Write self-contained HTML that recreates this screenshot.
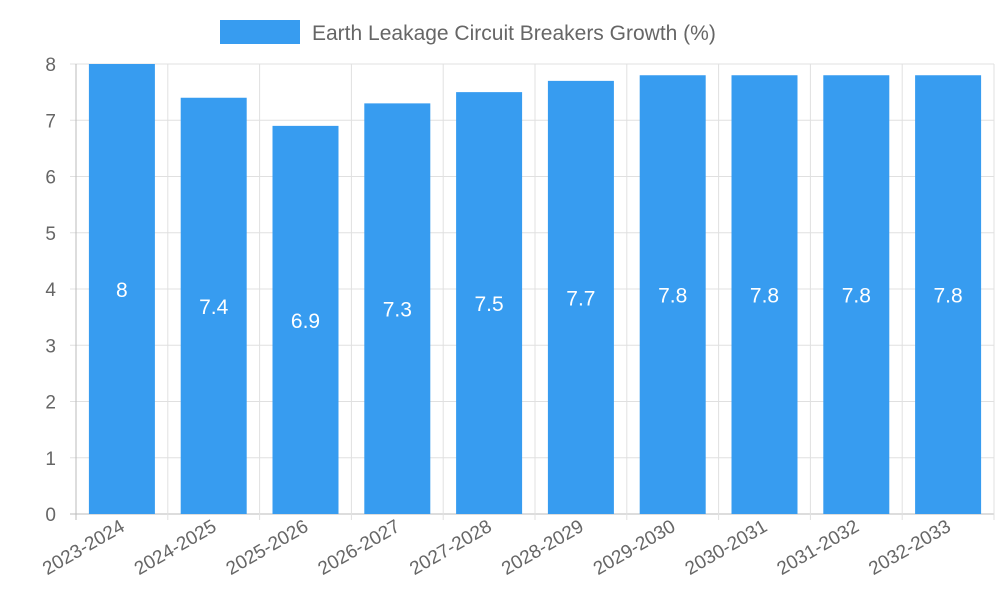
<!DOCTYPE html>
<html><head><meta charset="utf-8"><style>
body{margin:0;background:#fff;}
svg{display:block;font-family:"Liberation Sans",sans-serif;}
</style></head><body>
<svg id="chart" width="1000" height="600">
<g id="legend">
<rect x="220" y="20" width="80" height="24" fill="#379cf0"></rect>
<text x="312" y="40" font-size="21" fill="#666">Earth Leakage Circuit Breakers Growth (%)</text>
</g>
<g id="grid"></g>
<g id="bars"></g>
<g id="axes"></g>
</svg>
<script>
const categories=["2023-2024","2024-2025","2025-2026","2026-2027","2027-2028","2028-2029","2029-2030","2030-2031","2031-2032","2032-2033"];
const values=[8,7.4,6.9,7.3,7.5,7.7,7.8,7.8,7.8,7.8];
const yTicks=[0,1,2,3,4,5,6,7,8];
const NS="http://www.w3.org/2000/svg";
const L=76,R=994,T=64,B=514,yMax=8;
const bw=(R-L)/categories.length;
const x=i=>L+i*bw;
const y=v=>B-(v/yMax)*(B-T);
function mk(tag,attrs,parent,txt){const e=document.createElementNS(NS,tag);for(const k in attrs)e.setAttribute(k,attrs[k]);if(txt!==undefined)e.textContent=txt;parent.appendChild(e);return e;}
const grid=document.getElementById('grid'),bars=document.getElementById('bars'),axes=document.getElementById('axes');
yTicks.forEach(t=>{
 const g=mk('line',{x1:70,x2:R,y1:y(t),y2:y(t),stroke:t===0?'#bbb':'#e0e0e0','stroke-width':1},grid);
 
 
 const lb=mk('text',{x:56,y:y(t)+7,'text-anchor':'end','font-size':19,fill:'#666'},axes,String(t));
 
 
});
for(let i=0;i<=categories.length;i++){
 const g=mk('line',{x1:x(i),x2:x(i),y1:T,y2:B+6,stroke:i===0?'#bbb':'#e0e0e0','stroke-width':1},grid);
 
 
}
categories.forEach((c,i)=>{
 const cx=x(i)+bw/2,w=66;
 const r=mk('rect',{x:cx-w/2,y:y(values[i]),width:w,height:B-y(values[i]),fill:'#379cf0'},bars);
 
 
 const v=mk('text',{x:cx,y:(y(values[i])+B)/2+8,'text-anchor':'middle','font-size':21,fill:'#fff'},bars,String(values[i]));
 
 
 const lb=mk('text',{x:cx+4,y:530,'text-anchor':'end','font-size':19,fill:'#666',transform:`rotate(-30 ${cx+4} 530)`},axes,c);
 
 
});
</script>
</body></html>
